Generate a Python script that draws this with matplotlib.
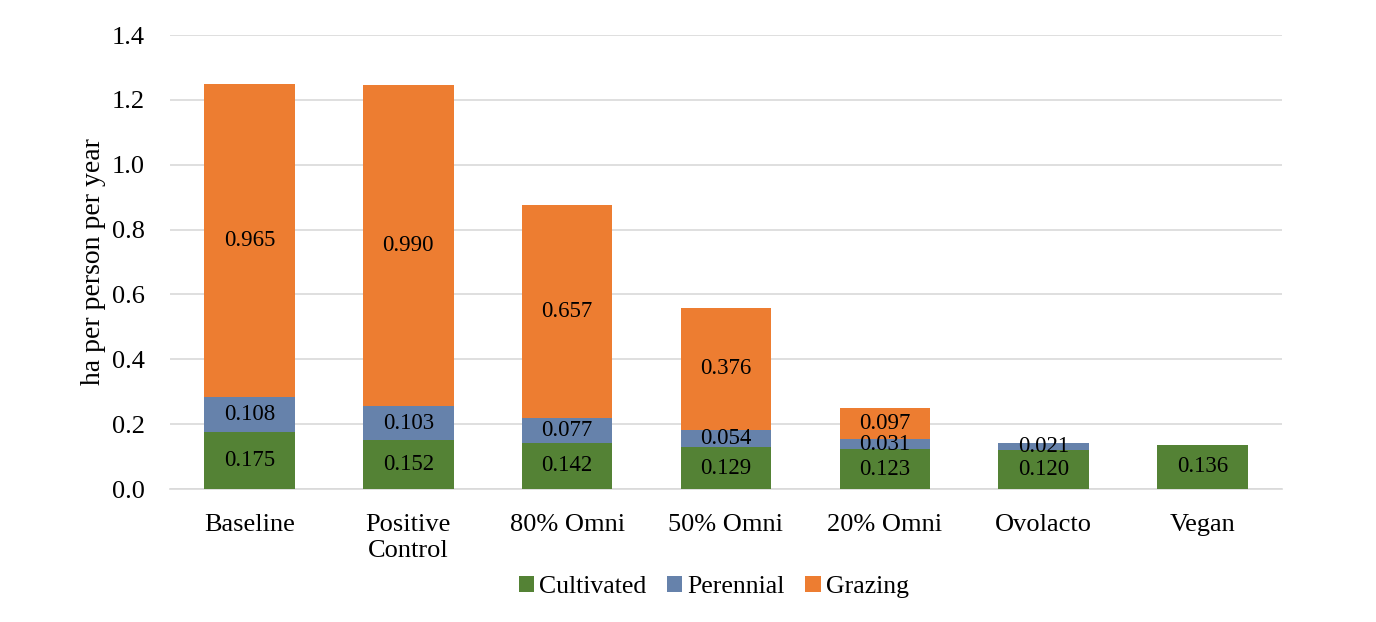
import matplotlib
matplotlib.use("Agg")
import matplotlib.pyplot as plt
import numpy as np

categories = ["Baseline", "Positive\nControl", "80% Omni", "50% Omni", "20% Omni", "Ovolacto", "Vegan"]
cultivated = [0.175, 0.152, 0.142, 0.129, 0.123, 0.120, 0.136]
perennial = [0.108, 0.103, 0.077, 0.054, 0.031, 0.021, 0.0]
grazing = [0.965, 0.990, 0.657, 0.376, 0.097, 0.0, 0.0]

plt.rcParams['font.family'] = ['Liberation Serif', 'DejaVu Serif']

fig = plt.figure(figsize=(13.76, 6.22), dpi=100)
ax = fig.add_axes([0.1235, 0.2138, 0.8082, 0.7299])

x = np.arange(len(categories))
w = 0.57
cols = {"Cultivated": "#548235", "Perennial": "#6682AB", "Grazing": "#ED7D31"}
bottom = np.zeros(len(categories))
for name, vals in [("Cultivated", cultivated), ("Perennial", perennial), ("Grazing", grazing)]:
    vals = np.array(vals)
    ax.bar(x, vals, w, bottom=bottom, color=cols[name], label=name, zorder=3)
    for xi, b, v in zip(x, bottom, vals):
        if v > 0:
            ax.text(xi, b + v / 2, f"{v:.3f}", ha="center", va="center", fontsize=16.5, zorder=4)
    bottom = bottom + vals

ax.set_xlim(-0.5, len(categories) - 0.5)
ax.set_ylim(0, 1.4)
ax.set_yticks(np.arange(0, 1.41, 0.2))
ax.set_yticklabels([f"{t:.1f}" for t in np.arange(0, 1.41, 0.2)])
ax.set_xticks(x)
ax.set_xticklabels(categories, linespacing=1.25)
ax.tick_params(axis="both", labelsize=19, length=0)
ax.tick_params(axis="y", pad=18)
ax.tick_params(axis="x", pad=18)
ax.yaxis.grid(True, color="#d9d9d9", linewidth=1.2, zorder=0)
for s in ["top", "right", "left"]:
    ax.spines[s].set_visible(False)
ax.spines["bottom"].set_color("#d9d9d9")
ax.spines["bottom"].set_linewidth(1.2)
ax.set_ylabel("ha per person per year", fontsize=20, labelpad=4)

ax.legend(loc="center", bbox_to_anchor=(0.489, -0.215), ncol=3, frameon=False, fontsize=18.5,
          handlelength=0.6, handleheight=0.6, handletextpad=0.2, columnspacing=0.8)

fig.savefig("out.png", dpi=100)
